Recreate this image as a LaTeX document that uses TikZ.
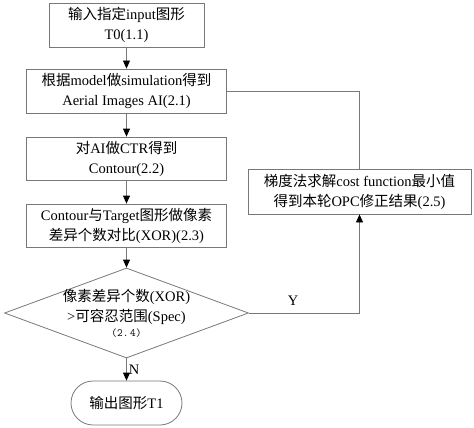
\documentclass[tikz,border=0pt]{standalone}
\usepackage{fontspec}
\setmainfont{Liberation Serif}
\newfontfamily\cjk{Noto Sans CJK SC}
\usetikzlibrary{arrows.meta,shapes.geometric}
\newcommand\zh[1]{{\cjk #1}}
\definecolor{ln}{RGB}{120,120,120}
\begin{document}
\begin{tikzpicture}[x=1pt,y=-1pt,
  every node/.style={font=\fontsize{14.5}{20}\selectfont},
  box/.style={draw=ln,line width=0.8pt,align=center,inner sep=0pt,minimum height=44pt},
  conn/.style={draw=ln,line width=0.8pt},
  arr/.style={conn,-{Triangle[length=8pt,width=7pt,color=black]}}]
\useasboundingbox (0,0) rectangle (474,428);
\node[box,minimum width=155pt] (b1) at (126.5,25) {\zh{输入指定}input\zh{图形}\\T0(1.1)};
\node[box,minimum width=200pt] (b2) at (126.5,91) {\zh{根据}model\zh{做}simulation\zh{得到}\\Aerial Images AI(2.1)};
\node[box,minimum width=200pt,minimum height=43pt] (b3) at (126.5,158.5) {\zh{对}AI\zh{做}CTR\zh{得到}\\Contour(2.2)};
\node[box,minimum width=200pt,minimum height=43pt] (b4) at (126.5,225.5) {Contour\zh{与}Target\zh{图形做像素}\\\zh{差异个数对比}(XOR)(2.3)};
\node[draw=ln,line width=0.8pt,diamond,inner sep=0pt,minimum width=244pt,minimum height=90pt] (d) at (126.5,313) {};
\node[align=center,inner sep=0pt] (dt) at (126.5,313) {\zh{像素差异个数}(XOR)\\>\zh{可容忍范围}(Spec)\\[-5pt]{\fontsize{11}{12}\selectfont\ttfamily (2.\,4)}};
\node[box,minimum width=223pt,minimum height=45pt] (b5) at (359.5,191.5) {\zh{梯度法求解}cost function\zh{最小值}\\\zh{得到本轮}OPC\zh{修正结果}(2.5)};
\node[box,minimum width=111pt,rounded corners=22pt] (t) at (126.5,403) {\zh{输出图形}T1};
\coordinate (yc) at (359.5,313);
\draw[arr] (b1) -- (b2);
\draw[arr] (b2) -- (b3);
\draw[arr] (b3) -- (b4);
\draw[arr] (b4) -- (d.north);
\draw[arr] (d.south) -- (t) node[midway,right,inner sep=2pt] (n) {N};
\draw[conn] (d.east) -- (yc);
\draw[arr] (yc) -- (b5.south);
\node (y) at (293,301) {Y};
\draw[conn] (b5.north) |- (b2.east);
\end{tikzpicture}
\end{document}
